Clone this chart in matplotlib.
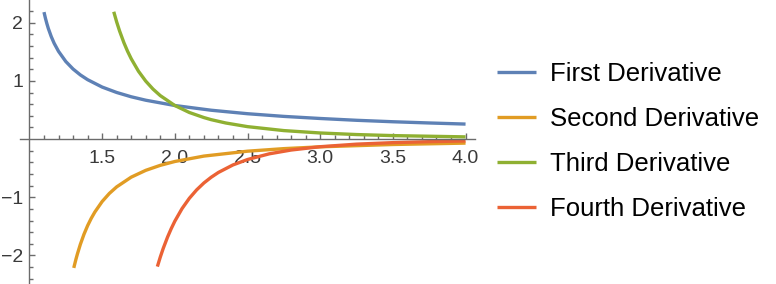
import matplotlib
matplotlib.use("Agg")
import matplotlib.pyplot as plt
from matplotlib.ticker import FixedLocator, FixedFormatter

plt.rcParams['font.family'] = ['Liberation Sans', 'DejaVu Sans']

# values
x_first = [1.1, 1.11, 1.12, 1.13, 1.15, 1.17, 1.2, 1.25, 1.3, 1.35, 1.4, 1.5, 1.6, 1.7, 1.8,
           2.0, 2.25, 2.5, 2.75, 3.0, 3.25, 3.5, 3.75, 4.0]
y_first = [2.182, 2.076, 1.983, 1.900, 1.761, 1.646, 1.508, 1.333, 1.204, 1.103, 1.021, 0.894,
           0.801, 0.727, 0.668, 0.577, 0.496, 0.436, 0.390, 0.354, 0.323, 0.298, 0.277, 0.258]

x_second = [1.305, 1.31, 1.32, 1.33, 1.35, 1.375, 1.4, 1.425, 1.45, 1.5, 1.55, 1.6, 1.7, 1.8,
            1.9, 2.0, 2.2, 2.5, 2.75, 3.0, 3.5, 4.0]
y_second = [-2.214, -2.162, -2.063, -1.973, -1.810, -1.636, -1.488, -1.362, -1.253, -1.073,
            -0.933, -0.821, -0.654, -0.537, -0.451, -0.385, -0.292, -0.208, -0.164, -0.133,
            -0.093, -0.069]

x_third = [1.58, 1.6, 1.62, 1.65, 1.675, 1.7, 1.75, 1.8, 1.85, 1.9, 2.0, 2.1, 2.2, 2.25, 2.35,
           2.5, 2.75, 3.0, 3.25, 3.5, 4.0]
y_third = [2.188, 2.013, 1.858, 1.655, 1.509, 1.381, 1.166, 0.996, 0.859, 0.747, 0.577, 0.457,
           0.370, 0.334, 0.277, 0.214, 0.146, 0.105, 0.078, 0.060, 0.038]

x_fourth = [1.88, 1.9, 1.92, 1.95, 1.975, 2.0, 2.05, 2.1, 2.15, 2.2, 2.25, 2.3, 2.4, 2.5, 2.65,
            2.8, 3.0, 3.25, 3.5, 3.75, 4.0]
y_fourth = [-2.191, -2.028, -1.880, -1.684, -1.540, -1.411, -1.193, -1.017, -0.873, -0.754,
            -0.656, -0.573, -0.444, -0.351, -0.253, -0.188, -0.131, -0.087, -0.061, -0.044,
            -0.032]

labels = ["First Derivative", "Second Derivative", "Third Derivative", "Fourth Derivative"]
colors = ["#5E81B5", "#E19C24", "#8FB032", "#EB6235"]

x_major = [1.5, 2.0, 2.5, 3.0, 3.5, 4.0]
x_major_labels = ["1.5", "2.0", "2.5", "3.0", "3.5", "4.0"]
y_major = [-2, -1, 1, 2]
y_major_labels = ["\u22122", "\u22121", "1", "2"]

fig = plt.figure(figsize=(7.76, 2.84), dpi=100)
ax = fig.add_axes([20 / 776, 0, 455 / 776, 1])

series = [(x_first, y_first), (x_second, y_second), (x_third, y_third), (x_fourth, y_fourth)]
for (xs, ys), lab, col in zip(series, labels, colors):
    ax.plot(xs, ys, color=col, lw=2.4, label=lab, solid_capstyle='butt')

ax.set_xlim(0.935, 4.065)
ax.set_ylim(-2.49, 2.39)

# Mathematica style axes
axis_col = "#6b6b6b"
ax.spines['top'].set_visible(False)
ax.spines['right'].set_visible(False)
ax.spines['bottom'].set_position(('data', 0))
ax.spines['left'].set_position(('data', 1.0))
for s in ('bottom', 'left'):
    ax.spines[s].set_color(axis_col)
    ax.spines[s].set_linewidth(1.0)

ax.xaxis.set_major_locator(FixedLocator(x_major))
ax.xaxis.set_major_formatter(FixedFormatter(x_major_labels))
ax.xaxis.set_minor_locator(FixedLocator([1.1, 1.2, 1.3, 1.4, 1.6, 1.7, 1.8, 1.9, 2.1, 2.2, 2.3, 2.4,
                                         2.6, 2.7, 2.8, 2.9, 3.1, 3.2, 3.3, 3.4, 3.6, 3.7, 3.8, 3.9]))
ax.yaxis.set_major_locator(FixedLocator(y_major))
ax.yaxis.set_major_formatter(FixedFormatter(y_major_labels))
ax.yaxis.set_minor_locator(FixedLocator([-2.4, -2.2, -1.8, -1.6, -1.4, -1.2, -0.8, -0.6, -0.4, -0.2,
                                         0.2, 0.4, 0.6, 0.8, 1.2, 1.4, 1.6, 1.8, 2.2]))

ax.tick_params(which='both', direction='in', color=axis_col, width=1.0)
ax.tick_params(which='major', length=4.5)
ax.tick_params(which='minor', length=2.8)
ax.tick_params(axis='x', which='major', pad=7.5, labelsize=14, labelcolor="#3a3a3a")
ax.tick_params(axis='y', which='major', pad=4.5, labelsize=14, labelcolor="#3a3a3a")

fig.legend(loc='center left', bbox_to_anchor=(497 / 776, 0.502), frameon=False,
           fontsize=18.5, handlelength=1.5, handletextpad=0.55, labelspacing=0.82,
           borderpad=0, borderaxespad=0)

fig.savefig("out.png", dpi=100)
